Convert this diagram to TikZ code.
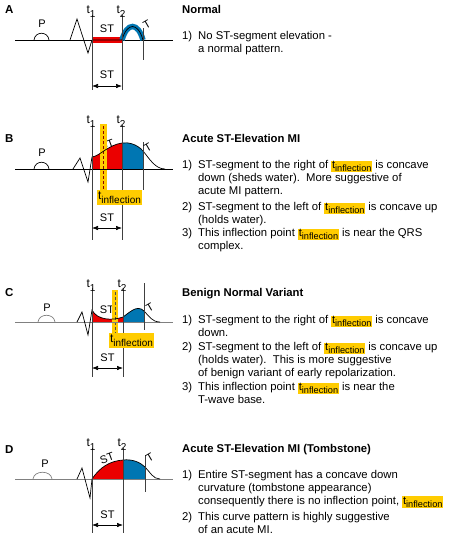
\documentclass[tikz,border=0pt]{standalone}
\usepackage{fontspec}
\setmainfont{Liberation Sans}
\usetikzlibrary{calc, arrows.meta}

\definecolor{stred}{RGB}{235,0,0}
\definecolor{stblue}{RGB}{0,118,178}
\definecolor{hilite}{RGB}{255,204,0}

% t with a subscript, in the pictures and in the text
\newcommand{\tmark}[1]{t\raisebox{-4pt}{\fontsize{10}{10}\selectfont #1}}
\newcommand{\tinf}{{\setlength{\fboxsep}{0.7pt}\colorbox{hilite}{t\raisebox{-2.6pt}{\fontsize{9.2}{9.2}\selectfont inflection}}}}

\tikzset{
  trace/.style={line width=0.7pt},
  flat/.style={line width=0.7pt, black!50},
  marker/.style={line width=0.6pt, black!75},
  span/.style={<->, >={Latex[length=6pt,width=4.5pt]}, line width=0.6pt},
  lbl/.style={font=\fontsize{11}{11}\selectfont, inner sep=0pt},
  tlbl/.style={font=\fontsize{12}{12}\selectfont, inner sep=0pt, anchor=base},
  inflbox/.style={font=\fontsize{12}{12}\selectfont, fill=hilite, inner sep=1.3pt},
  panel/.style={font=\bfseries\fontsize{11.5}{12}\selectfont, inner sep=0pt, anchor=base west},
  title/.style={font=\bfseries\fontsize{11.3}{13}\selectfont, inner sep=0pt, anchor=base west},
  item/.style={font=\fontsize{11.3}{12.8}\selectfont, inner sep=0pt, anchor=north west, align=left},
}

\begin{document}
\begin{tikzpicture}[x=1pt,y=-1pt]
    \useasboundingbox (0,0) rectangle (450,539);

    % Panel A: normal
    \node[panel] (letA) at (5,13) {A};
    \draw[trace] (15,40) -- (173,40);
    \draw[trace] (34,40) .. controls (35,31) and (48,31) .. (49,40);
    \draw[trace] (70,40) -- (77,19) -- (88,53) -- (92,40);
    \fill[stred] (92,37) rectangle (122,43);
    \draw[stblue, line width=5.5pt] (122,40) .. controls (127,22) and (138,22) .. (143,40);
    \draw[trace] (92,40) -- (122,40) .. controls (127,22) and (138,22) .. (143,40);
    \draw[marker] (92,15) -- (92,90);
    \draw[marker] (122,15) -- (122,90);
    \draw[marker] (143,28) -- (143,60);
    \node[tlbl] (t1A) at (91,13) {\tmark{1}};
    \node[tlbl] (t2A) at (121,13) {\tmark{2}};
    \node[lbl] (stA) at (107,29) {ST};
    \node[lbl] (pA) at (42,24) {P};
    \node[lbl, rotate=30] (tA) at (147,25) {T};
    \draw[span] (92,86) -- (122,86);
    \node[lbl] (dimA) at (107,75) {ST};

    % Panel B: acute ST-elevation MI
    \node[panel] (letB) at (5,142) {B};
    \fill[stred] (92,169) -- (92,157) .. controls (100,156) and (108,145) .. (122,143) -- (122,169) -- cycle;
    \fill[stblue] (122,169) -- (122,143) .. controls (128,142) and (137,144) .. (143,151) -- (143,169) -- cycle;
    \node[lbl, rotate=20] (stB) at (107,145) {ST};
    \fill[hilite] (100,124) rectangle (107,192);
    \draw[stred!60!black, densely dashed, line width=0.8pt] (103.5,126) -- (103.5,190);
    \draw[trace] (15,169) -- (173,169);
    \draw[trace] (34,169) .. controls (35,160) and (48,160) .. (49,169);
    \draw[trace] (73,169) -- (80,158) -- (88,182) -- (92,157)
      .. controls (100,156) and (108,145) .. (122,143)
      .. controls (128,142) and (137,144) .. (143,151)
      .. controls (149,158) and (155,169) .. (165,169);
    \draw[marker] (92,125) -- (92,240);
    \draw[marker] (122,125) -- (122,240);
    \draw[marker] (143,142) -- (143,190);
    \node[inflbox] (infB) at (119.5,197.5) {\tmark{inflection}};
    \node[tlbl] (t1B) at (91,123.5) {\tmark{1}};
    \node[tlbl] (t2B) at (121,123.5) {\tmark{2}};
    \node[lbl] (pB) at (42,153) {P};
    \node[lbl, rotate=30] (tB) at (148,148) {T};
    \draw[span] (92,228) -- (122,228);
    \node[lbl] (dimB) at (107,218) {ST};

    % Panel C: benign normal variant
    \node[panel] (letC) at (5,296) {C};
    \fill[stred] (92,322) -- (92,310) .. controls (97,320) and (112,321) .. (123,317) -- (123,322) -- cycle;
    \fill[stblue] (123,322) -- (123,317) .. controls (129,313) and (137,304) .. (144,311) -- (144,322) -- cycle;
    \node[lbl] (stC) at (107,310) {ST};
    \fill[hilite] (112,290) rectangle (118,335);
    \draw[black!70, densely dashed, line width=0.8pt] (115,292) -- (115,334);
    \draw[flat] (15,322) -- (173,322);
    \draw[flat] (38,322) .. controls (39,313) and (54,313) .. (55,322);
    \draw[trace] (77,322) -- (82,312) -- (88,335) -- (92,310)
      .. controls (97,320) and (112,321) .. (123,317)
      .. controls (129,313) and (137,304) .. (144,311)
      .. controls (149,316) and (152,322) .. (160,322);
    \draw[marker] (92,288) -- (92,377);
    \draw[marker] (123,288) -- (123,377);
    \draw[marker] (144,283) -- (144,330);
    \node[inflbox] (infC) at (131.5,340.5) {\tmark{inflection}};
    \node[tlbl] (t1C) at (91,287) {\tmark{1}};
    \node[tlbl] (t2C) at (122,287) {\tmark{2}};
    \node[lbl] (pC) at (47,308) {P};
    \node[lbl, rotate=30] (tC) at (150,308) {T};
    \draw[span] (92,368) -- (123,368);
    \node[lbl] (dimC) at (107.5,358) {ST};

    % Panel D: tombstone
    \node[panel] (letD) at (5,453) {D};
    \fill[stred] (92,479) .. controls (100,467) and (110,461) .. (123,460) -- (123,479) -- cycle;
    \fill[stblue] (123,479) -- (123,460) .. controls (132,459) and (140,462) .. (145,467) -- (145,479) -- cycle;
    \draw[flat] (15,479) -- (173,479);
    \draw[flat] (33,479) .. controls (34,470) and (51,470) .. (52,479);
    \draw[trace] (77,479) -- (82,468) -- (90,498) -- (92,479)
      .. controls (100,467) and (110,461) .. (123,460)
      .. controls (132,459) and (140,462) .. (145,467)
      .. controls (150,472) and (153,479) .. (160,479);
    \draw[marker] (92,448) -- (92,533);
    \draw[marker] (123,448) -- (123,533);
    \draw[marker] (145,455) -- (145,492);
    \node[tlbl] (t1D) at (91,446.5) {\tmark{1}};
    \node[tlbl] (t2D) at (122,446.5) {\tmark{2}};
    \node[lbl, rotate=20] (stD) at (107,458.5) {ST};
    \node[lbl] (pD) at (45,464) {P};
    \node[lbl, rotate=30] (tD) at (150,458) {T};
    \draw[span] (92,525) -- (123,525);
    \node[lbl] (dimD) at (107.5,515) {ST};

    % Text beside the panels
    \node[title] (headA) at (182,13) {Normal};
    \node[item] (numA1) at (182,31.5) {1)};
    \node[item] (txtA1) at (198,31.5) {No ST-segment elevation -\\a normal pattern.};

    \node[title] (headB) at (182,142) {Acute ST-Elevation MI};
    \node[item] (numB1) at (182,160.5) {1)};
    \node[item] (txtB1) at (198,160.5) {ST-segment to the right of \tinf{} is concave\\down (sheds water).\ \ More suggestive of\\acute MI pattern.};
    \node[item] (numB2) at (182,202.5) {2)};
    \node[item] (txtB2) at (198,202.5) {ST-segment to the left of \tinf{} is concave up\\(holds water).};
    \node[item] (numB3) at (182,228.5) {3)};
    \node[item] (txtB3) at (198,228.5) {This inflection point \tinf{} is near the QRS\\complex.};

    \node[title] (headC) at (182,296) {Benign Normal Variant};
    \node[item] (numC1) at (182,315.5) {1)};
    \node[item] (txtC1) at (198,315.5) {ST-segment to the right of \tinf{} is concave\\down.};
    \node[item] (numC2) at (182,342.5) {2)};
    \node[item] (txtC2) at (198,342.5) {ST-segment to the left of \tinf{} is concave up\\(holds water).\ \ This is more suggestive\\of benign variant of early repolarization.};
    \node[item] (numC3) at (182,382.5) {3)};
    \node[item] (txtC3) at (198,382.5) {This inflection point \tinf{} is near the\\T-wave base.};

    \node[title] (headD) at (182,452) {Acute ST-Elevation MI (Tombstone)};
    \node[item] (numD1) at (182,470.5) {1)};
    \node[item] (txtD1) at (198,470.5) {Entire ST-segment has a concave down\\curvature (tombstone appearance)\\consequently there is no inflection point, \tinf};
    \node[item] (numD2) at (182,512.5) {2)};
    \node[item] (txtD2) at (198,512.5) {This curve pattern is highly suggestive\\of an acute MI.};
\end{tikzpicture}
\end{document}
